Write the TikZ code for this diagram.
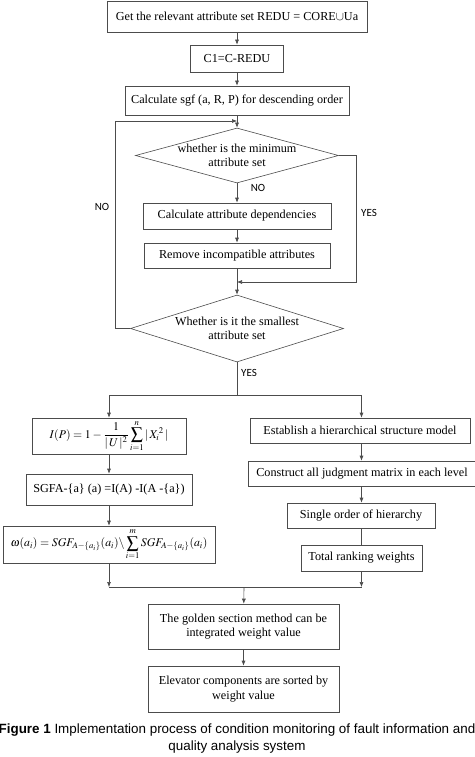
\documentclass[tikz,border=0pt]{standalone}
\usepackage{mathptmx}
\usepackage{fontspec}
\setmainfont{Liberation Serif}
\newfontfamily\capfont{Liberation Sans}
\newfontfamily\tagfont{Carlito}
\usetikzlibrary{arrows.meta,shapes.geometric}

\begin{document}
\begin{tikzpicture}[x=1pt,y=-1pt,line width=0.6pt,box/.style={draw=black!70,align=center,inner sep=1pt,font=\fontsize{12.2}{14.5}\selectfont},formula/.style={box,font=\fontsize{11.8}{13}\selectfont},decision/.style={draw=black!70,diamond,inner sep=0pt},dtext/.style={font=\fontsize{12.2}{14.5}\selectfont,align=center},tag/.style={font=\tagfont\fontsize{11}{13}\selectfont},link/.style={draw=black!70},arr/.style={link,-{Latex[length=5pt,width=4pt]}}]
\useasboundingbox (0,0) rectangle (474,757);
\node[box,minimum width=260,minimum height=31] (redu) at (237,16.5) {Get the relevant attribute set REDU = CORE$\cup$Ua};
\node[box,minimum width=93,minimum height=27] (c1) at (237,58.5) {C1=C-REDU};
\node[box,minimum width=224,minimum height=29] (sgf) at (237,100.5) {Calculate sgf (a, R, P) for descending order};
\node[decision,minimum width=203,minimum height=55,label={[dtext]center:whether is the minimum\\attribute set}] (d1) at (237,155.5) {};
\node[box,minimum width=188,minimum height=26] (dep) at (237,216) {Calculate attribute dependencies};
\node[box,minimum width=186,minimum height=25] (rem) at (237,255.5) {Remove incompatible attributes};
\node[decision,minimum width=213,minimum height=67,label={[dtext]center:Whether is it the smallest\\attribute set}] (d2) at (237,328.5) {};
\node[formula,minimum width=154,minimum height=36] (ip) at (109,436) {$\displaystyle I(P)=1-\frac{1}{|\,U\,|^{2}}\sum_{i=1}^{n}|\,X_i^{\,2}\,|$};
\node[box,minimum width=166,minimum height=31] (sgfa) at (109,489.5) {SGFA-\{a\} (a) =I(A) -I(A -\{a\})};
\node[formula,minimum width=212,minimum height=37] (omega) at (109,544.5) {$\displaystyle \omega(a_i)=SGF_{A-\{a_i\}}(a_i)\backslash\sum_{i=1}^{m}SGF_{A-\{a_i\}}(a_i)$};
\node[box,minimum width=220,minimum height=25] (est) at (360,430.5) {Establish a hierarchical structure model};
\node[box,minimum width=228,minimum height=25] (con) at (362,473.5) {Construct all judgment matrix in each level};
\node[box,minimum width=148,minimum height=25] (single) at (361,515.5) {Single order of hierarchy};
\node[box,minimum width=121,minimum height=26] (total) at (361.5,558) {Total ranking weights};
\node[box,minimum width=191,minimum height=45] (gold) at (243.5,626.5) {The golden section method can be\\integrated weight value};
\node[box,minimum width=191,minimum height=46] (elev) at (243.5,689) {Elevator components are sorted by\\weight value};
\node[font=\capfont\fontsize{13.4}{16.5}\selectfont,align=center] (caption) at (237,738.5) {\textbf{Figure 1} Implementation process of condition monitoring of fault information and\\quality analysis system};
\node[tag] (no1) at (258,188) {NO};
\node[tag] (yes1) at (369,213) {YES};
\node[tag] (no2) at (102,207) {NO};
\node[tag] (yes2) at (249,373) {YES};
\coordinate (loop) at (237,121);
\coordinate (back) at (237,282);
\coordinate (split) at (237,395);
\coordinate (merge) at (244,587);
\draw[arr] (redu) -- (c1);
\draw[arr] (c1) -- (sgf);
\draw[arr] (sgf) -- (d1);
\draw[arr] (d1) -- (dep);
\draw[arr] (dep) -- (rem);
\draw[arr] (rem) -- (d2);
\draw[arr] (d2.west) -- ++(-15,0) |- (loop);
\draw[arr] (d1.east) -- ++(17,0) |- (back);
\draw[link] (d2) -- (split);
\draw[link] (split -| ip) -- (split -| total);
\draw[arr] (split -| ip) -- (ip);
\draw[arr] (split -| total) -- (est.north -| total);
\draw[arr] (ip) -- (sgfa);
\draw[arr] (sgfa) -- (omega);
\draw[arr] (est.south -| total) -- (con.north -| total);
\draw[arr] (con.south -| total) -- (single.north -| total);
\draw[link] (single.south -| total) -- (total);
\draw[arr] (omega) -- (omega.south |- merge);
\draw[arr] (total) -- (total.south |- merge);
\draw[link] (omega.south |- merge) -- (total.south |- merge);
\draw[arr] (merge) -- (gold);
\draw[arr] (gold) -- (elev);
\end{tikzpicture}
\end{document}
